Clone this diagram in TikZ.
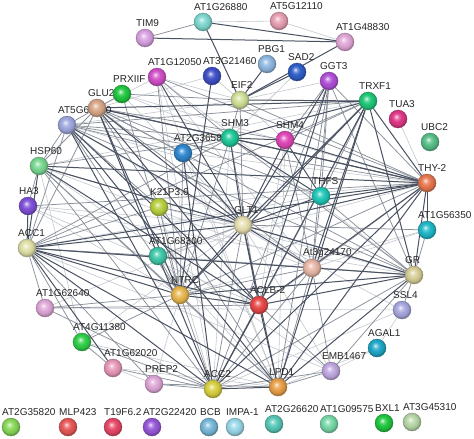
\documentclass[tikz,border=0pt]{standalone}
\usepackage{fontspec}
\setmainfont{Liberation Sans}
\pgfdeclarelayer{edges}
\pgfdeclarelayer{labels}
\pgfsetlayers{edges,labels,main}
\definecolor{edark}{HTML}{4A5262}
\definecolor{emid}{HTML}{8A909A}
\definecolor{elight}{HTML}{C4C8CE}
\makeatletter
\pgfdeclareradialshading[tikz@ball]{sball}{\pgfqpoint{-5bp}{7bp}}{%
 color(0bp)=(tikz@ball!10!white);
 color(6bp)=(tikz@ball!70!white);
 color(13bp)=(tikz@ball);
 color(21bp)=(tikz@ball!90!black);
 color(25bp)=(tikz@ball!72!black);
 color(50bp)=(tikz@ball!72!black)}
\makeatother
\tikzset{
  ballnode/.style={circle, minimum size=18pt, inner sep=0pt, ball color=#1, shading=sball, draw=#1!65!black, line width=0.3pt},
  lbl/.style={anchor=west, inner sep=0pt, font=\fontsize{10}{12}\selectfont, text=black!85},
  eL/.style={draw=elight, line width=0.6pt},
  eM/.style={draw=emid, line width=0.75pt},
  eD/.style={draw=edark, line width=1.0pt},
}
\begin{document}
\begin{tikzpicture}[x=1pt,y=-1pt]
\useasboundingbox (0,0) rectangle (474,439);
\begin{pgfonlayer}{edges}
\fill[white] (0,0) rectangle (474,439);
\end{pgfonlayer}
\foreach \n/\x/\y/\h/\t in {
 tim9/145/38/D8A2E2/TIM9, at1g26880/203/22/80D8D0/AT1G26880, at5g12110/279/21/E8A0B4/AT5G12110,
 at1g48830/345/42/E2A8D8/AT1G48830, at1g12050/157/77/D050C8/AT1G12050, at3g21460/212/76/4050C8/AT3G21460,
 pbg1/267/64/90B8E0/PBG1, sad2/297/72/3060C8/SAD2, ggt3/329/81/B050D8/GGT3,
 prxiif/122/94/20C840/PRXIIF, glu2/97/108/D8A888/GLU2, eif2/240/100/D0E098/EIF2,
 trxf1/368/101/20C878/TRXF1, tua3/398/119/E03888/TUA3, at5g67630/67/125/A0A8E0/AT5G67630,
 ubc2/430/142/58C088/UBC2, shm3/230/138/20C898/SHM3, shm4/285/140/E048B8/SHM4,
 hsp60/39/166/78D890/HSP60, at2g36580/183/153/3088D0/AT2G36580, thfs/321/196/20C8B8/THFS,
 thy2/427/183/E87850/THY-2, ha3/28/206/8050D8/HA3, k21p36/159/207/B8D040/K21P3.6,
 glt1/243/225/E8E0B0/GLT1, at1g56350/427/230/20B8C8/AT1G56350, acc1/27/248/E0E0A8/ACC1,
 at1g68300/158/256/40C8A8/AT1G68300, at3g24170/312/268/E8B8A8/At3g24170, gr/414/275/D8D098/GR,
 ntrc/180/295/E8B850/NTRC, aclb2/259/305/E84848/ACLB-2, at1g62640/45/308/E0A8D8/AT1G62640,
 ssl4/402/310/A8A8E0/SSL4, at4g11380/82/342/30D048/AT4G11380, agal1/377/348/20A8C8/AGAL1,
 at1g62020/113/368/E898B8/AT1G62020, prep2/154/384/E0A8D8/PREP2, emb1467/331/371/C0A8E0/EMB1467,
 lpd1/278/387/E8A048/LPD1, acc2/213/389/D8D040/ACC2,
 at2g35820/11/427/88D858/AT2G35820, mlp423/68/427/E85858/MLP423, t19f62/113/427/E84868/T19F6.2,
 at2g22420/152/427/9858D8/AT2G22420, bcb/209/427/78B8D8/BCB, impa1/235/427/98D8E8/IMPA-1,
 at2g26620/274/424/58C8B8/AT2G26620, at1g09575/329/424/78D8A8/AT1G09575, bxl1/384/423/20C840/BXL1,
 at3g45310/412/422/B8D8A8/AT3G45310}{
  \definecolor{tmpc}{HTML}{\h}
  \node[ballnode=tmpc] (\n) at (\x,\y) {};
  \begin{pgfonlayer}{labels}
    \node[lbl] (\n-t) at (\x-9,\y-15) {\t};
  \end{pgfonlayer}
}
\begin{pgfonlayer}{edges}
\foreach \a/\b in {at1g26880/at5g12110, at5g12110/at1g48830, at1g12050/eif2, at1g12050/gr, at1g12050/glu2,
 at3g21460/glu2, at3g21460/eif2, at1g12050/at3g24170, prxiif/glt1, prxiif/shm3, prxiif/thy2,
 hsp60/at4g11380, hsp60/trxf1, hsp60/at3g24170, ha3/gr, ha3/glt1, acc1/emb1467, acc1/thfs,
 at1g62640/glt1, at1g62640/ssl4, at4g11380/lpd1, at4g11380/glt1, at1g62020/lpd1, at1g62020/prep2,
 acc2/shm3, acc2/ssl4, lpd1/shm4, lpd1/agal1, aclb2/shm4, tua3/thy2, ssl4/agal1, agal1/emb1467,
 ssl4/glt1, emb1467/glt1, at1g56350/at3g24170, at1g56350/ntrc, eif2/shm4, eif2/ggt3,
 at5g67630/eif2, at5g67630/at3g24170, at5g67630/thfs, k21p36/gr, k21p36/thy2, at1g68300/gr,
 at1g68300/thy2, at2g36580/thy2, at2g36580/lpd1, shm3/sad2, hsp60/emb1467, ha3/ntrc,
 at1g12050/acc2, at1g12050/lpd1, k21p36/acc2, at1g68300/lpd1, ha3/aclb2, prep2/ntrc}
  \draw[eL] (\a) -- (\b);
\foreach \a/\b in {glu2/lpd1, glu2/gr, glu2/at3g24170, glu2/shm4, glu2/thfs, glu2/acc1, glu2/hsp60,
 glu2/at2g36580, glu2/at5g67630, glu2/prxiif, at5g67630/hsp60, at5g67630/acc1, at5g67630/ntrc,
 at5g67630/shm3, at5g67630/thy2, at5g67630/gr, at5g67630/trxf1, hsp60/ntrc, hsp60/gr, hsp60/shm3,
 hsp60/lpd1, hsp60/acc2, ha3/hsp60, ha3/thy2, acc1/at1g62640, acc1/at4g11380, acc1/prep2,
 acc1/at1g68300, acc1/at3g24170, acc1/shm3, acc1/trxf1, acc1/k21p36, at1g62640/aclb2,
 at1g62640/ntrc, at1g62640/acc2, at4g11380/acc2, at4g11380/at1g62020, at4g11380/ntrc,
 at1g62020/acc2, prep2/acc2, prep2/lpd1, acc2/glt1, acc2/ntrc, acc2/gr, acc2/at3g24170,
 acc2/emb1467, lpd1/ntrc, lpd1/emb1467, lpd1/at3g24170, ntrc/thy2, ntrc/at1g68300, ntrc/k21p36,
 ntrc/shm3, ntrc/at3g24170, aclb2/at3g24170, aclb2/trxf1, aclb2/shm3, aclb2/emb1467, glt1/eif2,
 glt1/k21p36, glt1/at1g56350, gr/at3g24170, gr/ssl4, gr/at1g56350, gr/shm3, gr/ggt3, gr/emb1467,
 gr/thfs, thy2/at3g24170, thy2/ggt3, thy2/eif2, trxf1/shm4, trxf1/thfs, ggt3/thfs, ggt3/at3g24170,
 ggt3/shm4, shm3/at2g36580, shm3/eif2, shm4/at3g24170, thfs/at3g24170, at3g24170/emb1467,
 at1g12050/shm3, at1g12050/thy2, at1g12050/ntrc, k21p36/at5g67630, at1g68300/glt1,
 at2g36580/ntrc, at2g36580/at5g67630, at1g26880/tim9, prxiif/eif2, prxiif/ntrc, ggt3/lpd1, ggt3/acc2}
  \draw[eM] (\a) -- (\b);
\foreach \a/\b in {glu2/glt1, glu2/ntrc, glu2/acc2, glu2/aclb2, glu2/trxf1, glu2/thy2, glu2/shm3,
 at5g67630/glt1, at5g67630/aclb2, at5g67630/lpd1, at5g67630/acc2, hsp60/glt1, hsp60/aclb2,
 hsp60/thy2, acc1/glt1, acc1/ntrc, acc1/aclb2, acc1/acc2, acc1/lpd1, acc1/thy2, acc1/gr,
 acc1/at1g62020, ntrc/trxf1, ntrc/glt1, ntrc/aclb2, ntrc/gr, aclb2/lpd1, aclb2/glt1, aclb2/acc2,
 aclb2/gr, aclb2/thy2, acc2/lpd1, acc2/trxf1, acc2/thy2, lpd1/glt1, lpd1/gr, lpd1/thy2, lpd1/trxf1,
 glt1/shm3, glt1/shm4, glt1/thfs, glt1/thy2, glt1/gr, glt1/trxf1, glt1/at3g24170, gr/thy2, gr/trxf1,
 thy2/shm4, thy2/shm3, thy2/trxf1, thy2/thfs, shm3/shm4, shm3/thfs, shm4/thfs, trxf1/shm3,
 trxf1/at3g24170, ggt3/glt1, ggt3/aclb2, at1g26880/eif2, at1g26880/at1g48830, tim9/at1g48830,
 sad2/eif2, pbg1/eif2, at1g48830/eif2, eif2/trxf1, at3g21460/ntrc, at1g56350/thy2, at1g12050/glt1,
 at2g36580/glt1, at2g36580/acc2, ha3/acc1, hsp60/acc1}
  \draw[eD] (\a) -- (\b);
\end{pgfonlayer}
\end{tikzpicture}
\end{document}
